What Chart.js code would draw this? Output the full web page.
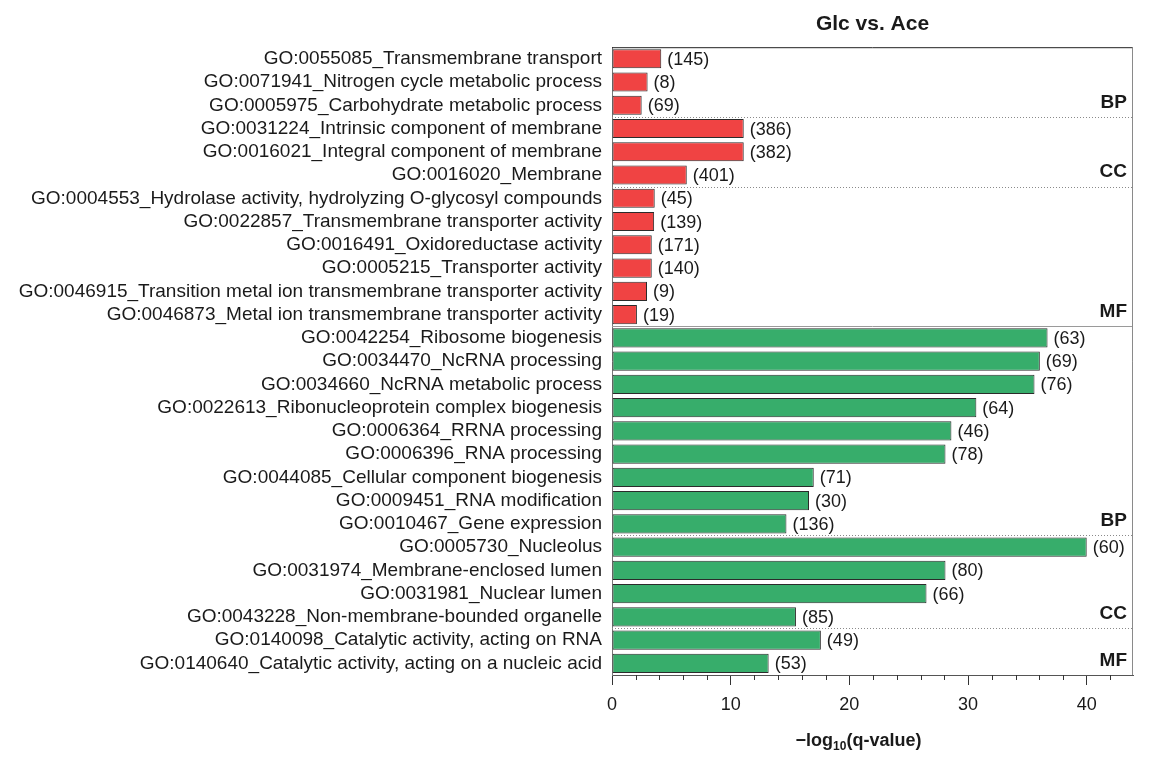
<!DOCTYPE html>
<html lang="en">

<head>
    <meta charset="UTF-8">
    <title>Glc vs. Ace</title>
    <script src="https://cdn.jsdelivr.net/npm/chart.js"></script>
    <style>
        body { margin: 0; background: #fff; }
        #wrap { width: 1150px; height: 761px; }
    </style>
</head>

<body>
    <div id="wrap"><canvas id="myChart" width="1150" height="761"></canvas></div>

    <script>
        // GO terms, top to bottom
        var categories = [
            'GO:0055085_Transmembrane transport',
            'GO:0071941_Nitrogen cycle metabolic process',
            'GO:0005975_Carbohydrate metabolic process',
            'GO:0031224_Intrinsic component of membrane',
            'GO:0016021_Integral component of membrane',
            'GO:0016020_Membrane',
            'GO:0004553_Hydrolase activity, hydrolyzing O-glycosyl compounds',
            'GO:0022857_Transmembrane transporter activity',
            'GO:0016491_Oxidoreductase activity',
            'GO:0005215_Transporter activity',
            'GO:0046915_Transition metal ion transmembrane transporter activity',
            'GO:0046873_Metal ion transmembrane transporter activity',
            'GO:0042254_Ribosome biogenesis',
            'GO:0034470_NcRNA processing',
            'GO:0034660_NcRNA metabolic process',
            'GO:0022613_Ribonucleoprotein complex biogenesis',
            'GO:0006364_RRNA processing',
            'GO:0006396_RNA processing',
            'GO:0044085_Cellular component biogenesis',
            'GO:0009451_RNA modification',
            'GO:0010467_Gene expression',
            'GO:0005730_Nucleolus',
            'GO:0031974_Membrane-enclosed lumen',
            'GO:0031981_Nuclear lumen',
            'GO:0043228_Non-membrane-bounded organelle',
            'GO:0140098_Catalytic activity, acting on RNA',
            'GO:0140640_Catalytic activity, acting on a nucleic acid'
        ];
        // -log10(q-value)
        var values = [4.15, 3.0, 2.5, 11.1, 11.1, 6.3, 3.6, 3.55, 3.35, 3.35, 2.95, 2.1,
            36.7, 36.05, 35.6, 30.7, 28.6, 28.1, 17.0, 16.6, 14.7,
            40.0, 28.1, 26.5, 15.5, 17.6, 13.2];
        // gene counts shown in brackets
        var counts = [145, 8, 69, 386, 382, 401, 45, 139, 171, 140, 9, 19,
            63, 69, 76, 64, 46, 78, 71, 30, 136, 60, 80, 66, 85, 49, 53];
        var direction = ['up', 'up', 'up', 'up', 'up', 'up', 'up', 'up', 'up', 'up', 'up', 'up',
            'down', 'down', 'down', 'down', 'down', 'down', 'down', 'down', 'down',
            'down', 'down', 'down', 'down', 'down', 'down'];
        var ontology = ['BP', 'BP', 'BP', 'CC', 'CC', 'CC', 'MF', 'MF', 'MF', 'MF', 'MF', 'MF',
            'BP', 'BP', 'BP', 'BP', 'BP', 'BP', 'BP', 'BP', 'BP',
            'CC', 'CC', 'CC', 'CC', 'MF', 'MF'];
        var xTicks = [0, 10, 20, 30, 40];

        var FONT = '"Liberation Sans", Arial, sans-serif';
        var TEXT = '#1a1a1a';

        // counts, group names, separators, frame, minor ticks, axis title
        var decorPlugin = {
            id: 'decor',
            beforeDatasetsDraw: function (chart) {
                var ctx = chart.ctx, a = chart.chartArea, y = chart.scales.y;
                ctx.save();
                for (var i = 0; i < categories.length - 1; i++) {
                    var sep = direction[i] !== direction[i + 1];
                    if (!sep && ontology[i] === ontology[i + 1]) continue;
                    var yy = Math.round((y.getPixelForValue(i) + y.getPixelForValue(i + 1)) / 2) + 0.5;
                    ctx.beginPath();
                    ctx.lineWidth = 1;
                    if (sep) { ctx.setLineDash([]); ctx.strokeStyle = '#9a9a9a'; }
                    else { ctx.setLineDash([1, 2]); ctx.strokeStyle = '#8a8a8a'; }
                    ctx.moveTo(a.left, yy);
                    ctx.lineTo(a.right, yy);
                    ctx.stroke();
                }
                ctx.restore();
            },
            afterDatasetsDraw: function (chart) {
                var ctx = chart.ctx, a = chart.chartArea;
                var x = chart.scales.x, y = chart.scales.y;
                var meta = chart.getDatasetMeta(0);
                ctx.save();
                ctx.fillStyle = TEXT;
                ctx.font = '18px ' + FONT;
                ctx.textAlign = 'left';
                ctx.textBaseline = 'middle';
                meta.data.forEach(function (bar, i) {
                    ctx.fillText('(' + counts[i] + ')', bar.x + 6, bar.y + 1);
                });
                // BP / CC / MF in the last row of each block
                ctx.font = 'bold 19px ' + FONT;
                ctx.textAlign = 'right';
                for (var i = 0; i < categories.length; i++) {
                    var last = i === categories.length - 1 || ontology[i] !== ontology[i + 1] || direction[i] !== direction[i + 1];
                    if (last) ctx.fillText(ontology[i], a.right - 6, y.getPixelForValue(i) - 3);
                }
                // frame top and right
                ctx.lineWidth = 1;
                ctx.strokeStyle = '#222';
                ctx.beginPath();
                ctx.moveTo(a.left, a.top + 0.5);
                ctx.lineTo(a.right, a.top + 0.5);
                ctx.stroke();
                ctx.strokeStyle = '#8a8a8a';
                ctx.beginPath();
                ctx.moveTo(a.right - 0.5, a.top);
                ctx.lineTo(a.right - 0.5, a.bottom);
                ctx.stroke();
                // minor ticks every 2
                ctx.strokeStyle = '#333';
                for (var v = 2; v <= x.max; v += 2) {
                    if (v % 10 === 0) continue;
                    var px = Math.round(x.getPixelForValue(v)) + 0.5;
                    ctx.beginPath();
                    ctx.moveTo(px, a.bottom);
                    ctx.lineTo(px, a.bottom + 5);
                    ctx.stroke();
                }
                // x axis title with subscript
                var cx = (a.left + a.right) / 2 - 14, ty = 740;
                var p1 = '\u2212log', p2 = '10', p3 = '(q-value)';
                ctx.textAlign = 'left';
                ctx.textBaseline = 'alphabetic';
                ctx.font = 'bold 18px ' + FONT;
                var w1 = ctx.measureText(p1).width, w3 = ctx.measureText(p3).width;
                ctx.font = 'bold 12px ' + FONT;
                var w2 = ctx.measureText(p2).width;
                var sx = cx - (w1 + w2 + w3) / 2;
                ctx.font = 'bold 18px ' + FONT;
                ctx.fillText(p1, sx, ty + 6);
                ctx.font = 'bold 12px ' + FONT;
                ctx.fillText(p2, sx + w1, ty + 10);
                ctx.font = 'bold 18px ' + FONT;
                ctx.fillText(p3, sx + w1 + w2, ty + 6);
                ctx.restore();
            }
        };

        var ctx = document.getElementById('myChart').getContext('2d');
        var myChart = new Chart(ctx, {
            type: 'bar',
            data: {
                labels: categories,
                datasets: [{
                    label: '-log10(q-value)',
                    data: values,
                    backgroundColor: direction.map(function (d) { return d === 'up' ? '#f04343' : '#37ad6b'; }),
                    borderColor: '#2b2b2b',
                    borderWidth: 1,
                    borderSkipped: false,
                    barPercentage: 0.82,
                    categoryPercentage: 1
                }]
            },
            options: {
                indexAxis: 'y',
                responsive: false,
                animation: false,
                layout: { padding: { top: 0, right: 17, bottom: 0, left: 0 } },
                plugins: {
                    legend: { display: false },
                    tooltip: { enabled: false },
                    title: {
                        display: true,
                        text: 'Glc vs. Ace',
                        fullSize: false,
                        color: TEXT,
                        font: { family: FONT, size: 21, weight: 'bold' },
                        padding: { top: 12, bottom: 10 }
                    }
                },
                scales: {
                    x: {
                        min: 0,
                        max: 43.9,
                        afterBuildTicks: function (scale) {
                            scale.ticks = xTicks.map(function (v) { return { value: v }; });
                        },
                        afterFit: function (scale) { scale.height = 86; },
                        grid: {
                            drawOnChartArea: false,
                            tickLength: 10,
                            tickColor: '#333'
                        },
                        border: { color: '#555', width: 1 },
                        ticks: {
                            color: TEXT,
                            padding: 9,
                            maxRotation: 0,
                            font: { family: FONT, size: 18 }
                        }
                    },
                    y: {
                        afterFit: function (scale) { scale.width = 612; },
                        grid: { display: false, drawTicks: false },
                        border: { color: '#777', width: 1 },
                        ticks: {
                            color: TEXT,
                            padding: 10,
                            autoSkip: false,
                            font: { family: FONT, size: 19 }
                        }
                    }
                }
            },
            plugins: [decorPlugin]
        });
    </script>
</body>

</html>
